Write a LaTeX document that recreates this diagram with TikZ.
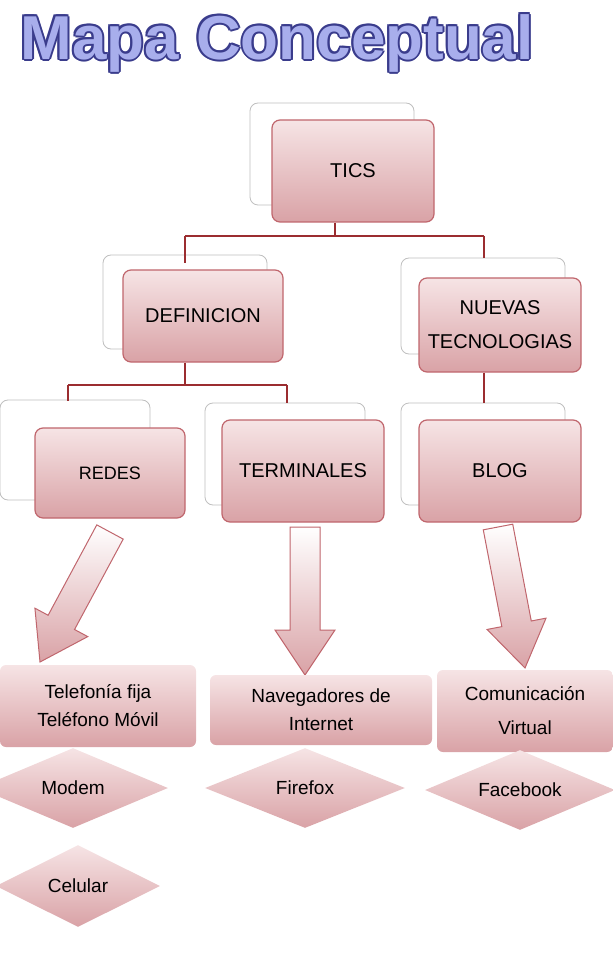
\documentclass[tikz,border=0pt]{standalone}
\usepackage{fontspec}
\setmainfont{Liberation Sans}
\usetikzlibrary{shapes.geometric,calc}
\definecolor{lnk}{HTML}{9B2D30}
\definecolor{pk1}{HTML}{F6E4E5}
\definecolor{pk2}{HTML}{D9A2A6}
\definecolor{pkd}{HTML}{C0666D}
\definecolor{ttl}{HTML}{A8AEEC}
\definecolor{ttlo}{HTML}{3A3C8C}
\tikzset{
 pinkfill/.style={top color=pk1,bottom color=pk2,draw=pkd,line width=0.6pt},
 cbox/.style={pinkfill,rounded corners=4pt,inner sep=0pt,align=center,font=\fontsize{10}{13}\selectfont},
 sbox/.style={draw=gray!50,fill=white,rounded corners=4pt,inner sep=0pt},
 rbox/.style={top color=pk1,bottom color=pk2,draw=none,rounded corners=3pt,align=center,inner sep=0pt,font=\fontsize{9.5}{14}\selectfont},
 dia/.style={diamond,aspect=2.4,top color=pk1,bottom color=pk2,draw=none,inner sep=0pt,font=\fontsize{9.5}{12}\selectfont},
 barrow/.style={top color=white,bottom color=pk2,draw=pkd,line width=0.5pt},
 lnkl/.style={draw=lnk,line width=1.2pt},
 ttlf/.style={font=\bfseries\fontsize{31}{33}\selectfont}
}
\newcommand{\blockarr}[2]{%
 \path ($(#2)!22.5pt!(#1)$) coordinate (hh);
 \draw[barrow] ($(#1)!7.5pt!-90:(#2)$) -- ($(hh)!7.5pt!-90:(#2)$) -- ($(hh)!15pt!-90:(#2)$) -- (#2)
  -- ($(hh)!15pt!90:(#2)$) -- ($(hh)!7.5pt!90:(#2)$) -- ($(#1)!7.5pt!90:(#2)$) -- cycle;}
\begin{document}
\begin{tikzpicture}[x=0.5pt,y=-0.5pt]
\useasboundingbox (0,0) rectangle (613,978);
% title
\foreach \dx/\dy in {-1.5/-1.5,1.5/-1.5,-1.5/1.5,1.5/1.5,0/-2,0/2,-2/0,2/0}
 \node[text=ttlo,ttlf] at (277+\dx,43+\dy) {Mapa Conceptual};
\node[text=ttl,ttlf] (title) at (277,43) {Mapa Conceptual};
% shadows
\node[sbox,minimum width=82pt,minimum height=51pt] (s0) at (332,154) {};
\node[sbox,minimum width=82pt,minimum height=47pt] (s1) at (185,302) {};
\node[sbox,minimum width=82pt,minimum height=48pt] (s2) at (483,306) {};
\node[sbox,minimum width=75pt,minimum height=50pt] (s3) at (75,450) {};
\node[sbox,minimum width=80pt,minimum height=51pt] (s4) at (285,454) {};
\node[sbox,minimum width=82pt,minimum height=51pt] (s5) at (483,454) {};
% boxes
\node[cbox,minimum width=81pt,minimum height=51pt] (tics) at (353,171) {TICS};
\node[cbox,minimum width=80pt,minimum height=46pt] (def) at (203,316) {DEFINICION};
\node[cbox,minimum width=81pt,minimum height=47pt] (nt) at (500,325) {NUEVAS\\[4pt]TECNOLOGIAS};
\node[cbox,minimum width=75pt,minimum height=45pt,font=\fontsize{9}{11}\selectfont] (redes) at (110,473) {REDES};
\node[cbox,minimum width=81pt,minimum height=51pt] (term) at (303,471) {TERMINALES};
\node[cbox,minimum width=81pt,minimum height=51pt] (blog) at (500,471) {BLOG};
% connectors
\coordinate (j1) at (335,236);
\draw[lnkl] (tics.south -| j1) -- (j1);
\draw[lnkl] (185,236) -- (484,236);
\draw[lnkl] (185,236) -- (185,263);
\draw[lnkl] (484,236) -- (484,258);
\coordinate (j2) at (185,385);
\draw[lnkl] (def.south -| j2) -- (j2);
\draw[lnkl] (68,385) -- (287,385);
\draw[lnkl] (68,385) -- (68,401);
\draw[lnkl] (287,385) -- (287,403);
\draw[lnkl] (nt.south -| 484,0) -- (484,403);
% block arrows
\coordinate (a1s) at (110,532); \coordinate (a1e) at (40,662);
\coordinate (a2s) at (305,527); \coordinate (a2e) at (305,675);
\coordinate (a3s) at (498,527); \coordinate (a3e) at (525,668);
\blockarr{a1s}{a1e}
\blockarr{a2s}{a2e}
\blockarr{a3s}{a3e}
% leaf rectangles
\node[rbox,minimum width=98pt,minimum height=41pt] (tel) at (98,706) {Telefonía fija\\Teléfono Móvil};
\node[rbox,minimum width=111pt,minimum height=35pt] (nav) at (321,710) {Navegadores de\\Internet};
\node[rbox,minimum width=88pt,minimum height=41pt] (com) at (525,711) {Comunicación\\[3pt]Virtual};
% diamonds
\node[dia,minimum width=95pt,minimum height=40pt] (modem) at (73,788) {Modem};
\node[dia,minimum width=82pt,minimum height=41pt] (cel) at (78,886) {Celular};
\node[dia,minimum width=100pt,minimum height=40pt] (fire) at (305,788) {Firefox};
\node[dia,minimum width=95pt,minimum height=40pt] (face) at (520,790) {Facebook};
\end{tikzpicture}
\end{document}
